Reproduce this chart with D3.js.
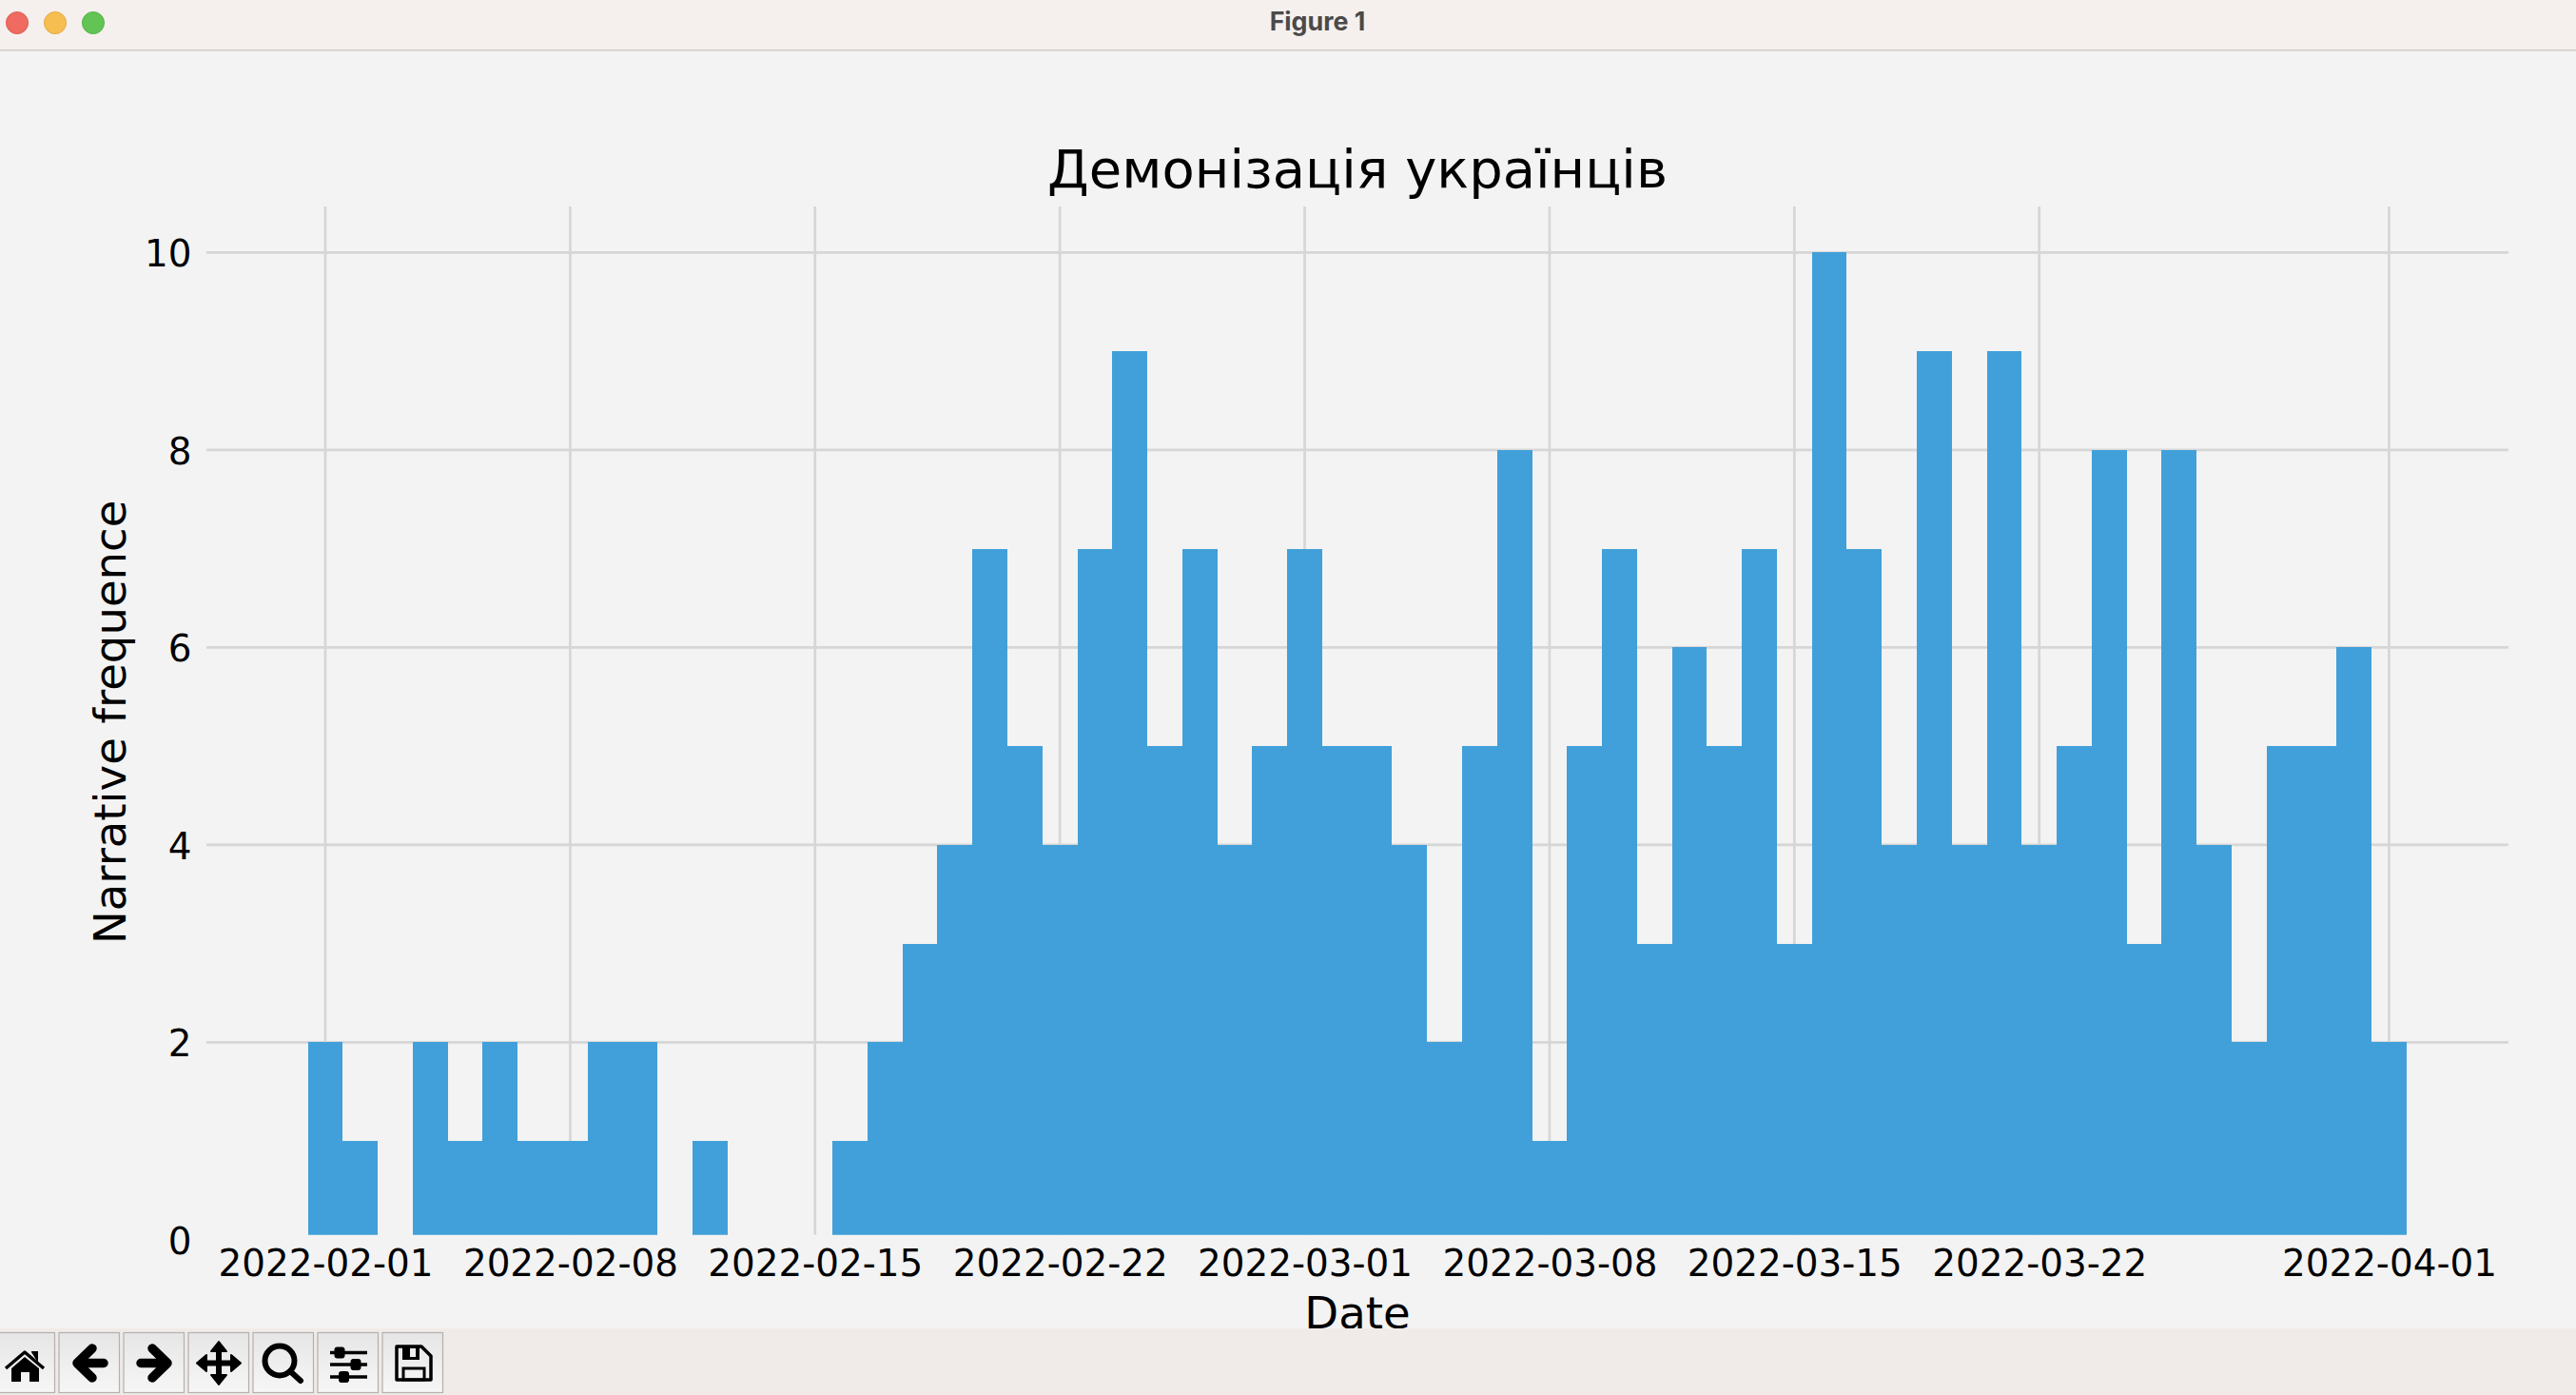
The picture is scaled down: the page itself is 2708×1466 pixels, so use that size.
<!DOCTYPE html>
<html>
<head>
<meta charset="utf-8">
<script src="https://cdn.jsdelivr.net/npm/d3@7/dist/d3.min.js"></script>
<style>
  html, body { margin: 0; padding: 0; background: #f3f3f3; overflow: hidden; }
  svg { display: block; }
  text { font-family: "DejaVu Sans", sans-serif; fill: #000; }
</style>
</head>
<body>
<div id="chart-area"></div>
<script>
// data: one count per day, first bin is 2022-02-01
const firstDay = "2022-02-01"
const counts = [
  2, 1, 0, 2, 1, 2, 1, 1, 2, 2,
  0, 1, 0, 0, 0, 1, 2, 3, 4, 7,
  5, 4, 7, 9, 5, 7, 4, 5, 7, 5,
  5, 4, 2, 5, 8, 1, 5, 7, 3, 6,
  5, 7, 3, 10, 7, 4, 9, 4, 9, 4,
  5, 8, 3, 8, 4, 2, 5, 5, 6, 2
]
const xTickLabels = [
  "2022-02-01", "2022-02-08", "2022-02-15", "2022-02-22", "2022-03-01",
  "2022-03-08", "2022-03-15", "2022-03-22", "2022-04-01"
]
const yTicks = [0, 2, 4, 6, 8, 10]

const W = 2708
const H = 1466
const chartTitle = "Демонізація українців"
const xLabel = "Date"
const yLabel = "Narrative frequence"

// plot box of the figure, the lower edge sits a little above y = 0
const box = { left: 217, right: 2637, top: 217, bottom: 1297.7 }

const parseDay = d3.utcParse("%Y-%m-%d")
const formatDay = d3.utcFormat("%Y-%m-%d")
const start = parseDay(firstDay)

const svg = d3.select("#chart-area").append("svg")
  .attr("width", W)
  .attr("height", H)

svg.append("rect").attr("width", W).attr("height", H).attr("fill", "#f3f3f3")

svg.append("clipPath").attr("id", "plot-clip")
  .append("rect")
  .attr("x", box.left)
  .attr("y", box.top)
  .attr("width", box.right - box.left)
  .attr("height", box.bottom - box.top)

// scales, the time domain goes through the 02-01 and 04-01 gridlines
const x = d3.scaleUtc()
  .domain([parseDay("2022-02-01"), parseDay("2022-04-01")])
  .range([342, 2511.4])

const y = d3.scaleLinear()
  .domain([0, 10])
  .range([1302.8, 265.3])

// grid lines and tick labels come from the d3 axes
const xAxis = d3.axisBottom(x)
  .tickValues(xTickLabels.map(parseDay))
  .tickFormat(formatDay)
  .tickSize(0)
  .tickPadding(0)

const yAxis = d3.axisLeft(y)
  .tickValues(yTicks)
  .tickSize(0)
  .tickPadding(0)

const gridColor = "#d6d6d6"

const xGrid = svg.append("g").attr("clip-path", "url(#plot-clip)")
xGrid.selectAll("line")
  .data(xTickLabels.map(parseDay))
  .enter().append("line")
  .attr("x1", d => x(d))
  .attr("x2", d => x(d))
  .attr("y1", box.top)
  .attr("y2", box.bottom)
  .attr("stroke", gridColor)
  .attr("stroke-width", 2.7)

const yGrid = svg.append("g").attr("clip-path", "url(#plot-clip)")
yGrid.selectAll("line")
  .data(yTicks)
  .enter().append("line")
  .attr("x1", box.left)
  .attr("x2", box.right)
  .attr("y1", d => y(d))
  .attr("y2", d => y(d))
  .attr("stroke", gridColor)
  .attr("stroke-width", 2.7)

// histogram bars, one day wide and centred on the day
const binEdge = (i, hours) => x(d3.utcHour.offset(d3.utcDay.offset(start, i), hours))

svg.append("g")
  .attr("clip-path", "url(#plot-clip)")
  .selectAll("rect")
  .data(counts)
  .enter().append("rect")
  .attr("x", (d, i) => binEdge(i, -12))
  .attr("width", (d, i) => binEdge(i, 12) - binEdge(i, -12))
  .attr("y", d => y(d))
  .attr("height", d => y(0) - y(d))
  .attr("fill", "#41a0d9")
  .attr("shape-rendering", "crispEdges")

const gx = svg.append("g")
  .attr("transform", `translate(0, ${box.bottom})`)
  .call(xAxis)
gx.select(".domain").remove()
gx.selectAll("text")
  .attr("y", 0)
  .attr("dy", 43)
  .attr("font-size", "38.9px")
  .attr("font-family", "DejaVu Sans")

const gy = svg.append("g")
  .attr("transform", `translate(201.5, 0)`)
  .call(yAxis)
gy.select(".domain").remove()
gy.selectAll("text")
  .attr("x", 0)
  .attr("dy", 14.2)
  .attr("font-size", "38.9px")
  .attr("font-family", "DejaVu Sans")

svg.append("text")
  .attr("x", (box.left + box.right) / 2)
  .attr("y", 196.5)
  .attr("text-anchor", "middle")
  .attr("font-size", "56px")
  .text(chartTitle)

svg.append("text")
  .attr("x", (box.left + box.right) / 2)
  .attr("y", 1396)
  .attr("text-anchor", "middle")
  .attr("font-size", "46.6px")
  .text(xLabel)

svg.append("text")
  .attr("transform", `translate(132, ${(box.top + box.bottom) / 2 + 1.5}) rotate(-90)`)
  .attr("text-anchor", "middle")
  .attr("font-size", "46.6px")
  .text(yLabel)

// ---- window title bar ----
svg.append("rect").attr("width", W).attr("height", 52).attr("fill", "#f5f0ee")
svg.append("rect").attr("y", 52).attr("width", W).attr("height", 1.5).attr("fill", "#cfcdcc")

const lights = [
  { cx: 18, fill: "#ef6a60", stroke: "#d9534a" },
  { cx: 58, fill: "#f6be50", stroke: "#dfa235" },
  { cx: 98, fill: "#61c454", stroke: "#4fae43" }
]
svg.selectAll("circle.light")
  .data(lights)
  .enter().append("circle")
  .attr("class", "light")
  .attr("cx", d => d.cx)
  .attr("cy", 24)
  .attr("r", 11.6)
  .attr("fill", d => d.fill)
  .attr("stroke", d => d.stroke)
  .attr("stroke-width", 0.8)

svg.append("text")
  .attr("x", 1385)
  .attr("y", 32)
  .attr("text-anchor", "middle")
  .attr("font-size", "26.8px")
  .attr("font-weight", 700)
  .style("font-family", "Inter")
  .style("fill", "#4b4949")
  .text("Figure 1")

// ---- matplotlib toolbar ----
svg.append("rect").attr("y", 1396).attr("width", W).attr("height", 70).attr("fill", "#f0ebe8")

const grad = svg.append("linearGradient").attr("id", "btn").attr("x1", 0).attr("x2", 0).attr("y1", 0).attr("y2", 1)
grad.append("stop").attr("offset", "0").attr("stop-color", "#e6e6e6")
grad.append("stop").attr("offset", "1").attr("stop-color", "#f6f6f6")

const buttonLeft = [-6, 62, 130, 198, 266, 334, 402]
svg.selectAll("rect.btn")
  .data(buttonLeft)
  .enter().append("rect")
  .attr("class", "btn")
  .attr("x", d => d)
  .attr("y", 1400.5)
  .attr("width", 63.5)
  .attr("height", 63)
  .attr("fill", "url(#btn)")
  .attr("stroke", "#b3b0ae")
  .attr("stroke-width", 1.2)

const icons = svg.append("g")

// home
icons.append("path")
  .attr("d", "M6 1438 L26 1421 L46 1438")
  .attr("fill", "none").attr("stroke", "#000").attr("stroke-width", 3.5).attr("stroke-linejoin", "round")
icons.append("path")
  .attr("d", "M33 1421 V1420 H40 V1432 Z")
  .attr("fill", "#000")
icons.append("path")
  .attr("d", "M12 1438 L26 1426 L41 1438 V1452 H31 V1442 H22 V1452 H12 Z")
  .attr("fill", "#000")

// back and forward
const arrowStyle = sel => sel.attr("fill", "none").attr("stroke", "#000").attr("stroke-width", 9.5)
  .attr("stroke-linecap", "round").attr("stroke-linejoin", "round")
icons.append("path").attr("d", "M97 1417 L81 1432.5 L97 1448 M81 1432.5 H109").call(arrowStyle)
icons.append("path").attr("d", "M160 1417 L176 1432.5 L160 1448 M176 1432.5 H148").call(arrowStyle)

// move
icons.append("path")
  .attr("d", "M230 1415 V1450 M212 1432.5 H248")
  .attr("stroke", "#000").attr("stroke-width", 6)
icons.append("path")
  .attr("d", "M230 1410 L238 1420 H222 Z M230 1455 L238 1445 H222 Z M207 1432.5 L217 1424 V1441 Z M253 1432.5 L243 1424 V1441 Z")
  .attr("fill", "#000").attr("stroke", "#000").attr("stroke-width", 2).attr("stroke-linejoin", "round")

// zoom
icons.append("circle")
  .attr("cx", 294).attr("cy", 1430).attr("r", 15.5)
  .attr("fill", "none").attr("stroke", "#000").attr("stroke-width", 6)
icons.append("path")
  .attr("d", "M305 1441 L316 1451")
  .attr("stroke", "#000").attr("stroke-width", 6).attr("stroke-linecap", "round")

// sliders
const sliderRows = [{ y: 1421.5, k: 357 }, { y: 1434, k: 374 }, { y: 1447, k: 361.5 }]
icons.selectAll("line.slider")
  .data(sliderRows)
  .enter().append("line")
  .attr("class", "slider")
  .attr("x1", 347).attr("x2", 386)
  .attr("y1", d => d.y).attr("y2", d => d.y)
  .attr("stroke", "#000").attr("stroke-width", 3.5)
icons.selectAll("rect.knob")
  .data(sliderRows)
  .enter().append("rect")
  .attr("class", "knob")
  .attr("x", d => d.k - 5).attr("y", d => d.y - 5.5)
  .attr("width", 10).attr("height", 11).attr("rx", 2)
  .attr("stroke", "#000").attr("stroke-width", 1)

// save
icons.append("path")
  .attr("d", "M417 1415 H443 L453 1425 V1450 H417 Z")
  .attr("fill", "none").attr("stroke", "#000").attr("stroke-width", 3.5).attr("stroke-linejoin", "round")
icons.append("path")
  .attr("d", "M423 1415 H441 V1429 H423 Z")
  .attr("fill", "#000")
icons.append("rect")
  .attr("x", 431).attr("y", 1417).attr("width", 6).attr("height", 9).attr("fill", "#eee")
icons.append("rect")
  .attr("x", 424).attr("y", 1438).attr("width", 22).attr("height", 12)
  .attr("fill", "none").attr("stroke", "#000").attr("stroke-width", 3)
</script>
</body>
</html>
